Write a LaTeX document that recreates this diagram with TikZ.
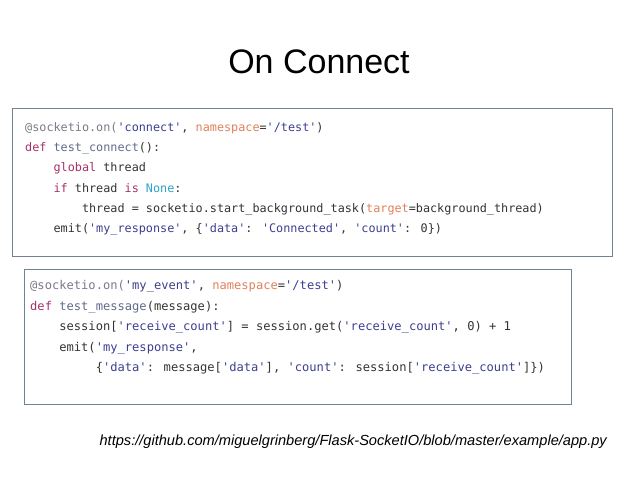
\documentclass[tikz,border=0pt]{standalone}
\usepackage{fontspec}
\setmainfont{Liberation Sans}
\newfontfamily\codefont{DejaVu Sans Mono}
\definecolor{kwc}{HTML}{A3326A}
\definecolor{stc}{HTML}{3C3F8F}
\definecolor{nmc}{HTML}{E0805A}
\definecolor{fnc}{HTML}{5F6B8A}
\definecolor{cnc}{HTML}{2EA3C2}
\definecolor{dec}{HTML}{7A7A88}
\definecolor{txc}{HTML}{333333}
\definecolor{boxc}{HTML}{6E8496}
\newcommand\kw[1]{\textcolor{kwc}{#1}}
\newcommand\st[1]{\textcolor{stc}{#1}}
\newcommand\nm[1]{\textcolor{nmc}{#1}}
\newcommand\fn[1]{\textcolor{fnc}{#1}}
\newcommand\cn[1]{\textcolor{cnc}{#1}}
\newcommand\dc[1]{\textcolor{dec}{#1}}
\begin{document}
\begin{tikzpicture}[x=1pt,y=-1pt,
  codeA/.style={anchor=west,inner sep=0pt,text=txc,font=\codefont\fontsize{11.8}{14}\selectfont},
  codeB/.style={anchor=west,inner sep=0pt,text=txc,font=\codefont\fontsize{12.1}{14}\selectfont},
  codebox/.style={draw=boxc,line width=0.9pt}]
\useasboundingbox (0,0) rectangle (638,479);
\node[font=\fontsize{34}{38}\selectfont] (title) at (319,62) {On Connect};
\draw[codebox] (12,108) rectangle (612,256);
\node[codeA] (a1) at (25,128) {\dc{@socketio.on(}\st{'connect'}, \nm{namespace}=\st{'/test'})};
\node[codeA] (a2) at (25,148) {\kw{def} \fn{test\_connect}():};
\node[codeA] (a3) at (25,168) {\phantom{xxxx}\kw{global} thread};
\node[codeA] (a4) at (25,188) {\phantom{xxxx}\kw{if} thread \kw{is} \cn{None}:};
\node[codeA] (a5) at (25,209) {\phantom{xxxxxxxx}thread = socketio.start\_background\_task(\nm{target}=background\_thread)};
\node[codeA] (a6) at (25,229) {\phantom{xxxx}emit(\st{'my\_response'}, \{\st{'data'}: \st{'Connected'}, \st{'count'}: 0\})};
\draw[codebox] (24,269) rectangle (571,404);
\node[codeB] (b1) at (30,286) {\dc{@socketio.on(}\st{'my\_event'}, \nm{namespace}=\st{'/test'})};
\node[codeB] (b2) at (30,307) {\kw{def} \fn{test\_message}(message):};
\node[codeB] (b3) at (30,327) {\phantom{xxxx}session[\st{'receive\_count'}] = session.get(\st{'receive\_count'}, 0) + 1};
\node[codeB] (b4) at (30,348) {\phantom{xxxx}emit(\st{'my\_response'},};
\node[codeB] (b5) at (30,368) {\phantom{xxxxxxxxx}\{\st{'data'}: message[\st{'data'}], \st{'count'}: session[\st{'receive\_count'}]\})};
\node[anchor=east,inner sep=0pt,font=\itshape\fontsize{14.6}{16}\selectfont] (url) at (607,442) {https://github.com/miguelgrinberg/Flask-SocketIO/blob/master/example/app.py};
\end{tikzpicture}
\end{document}
